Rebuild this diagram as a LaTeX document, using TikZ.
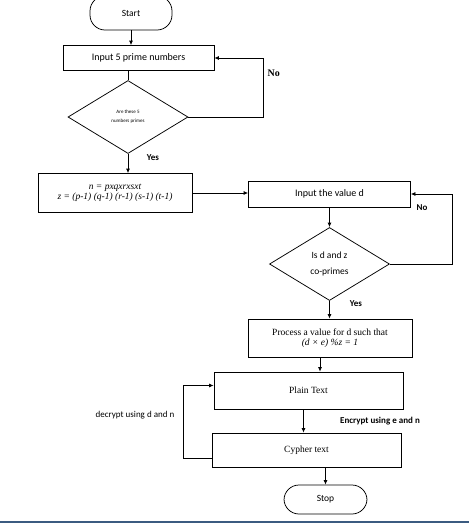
\documentclass[tikz,border=0pt]{standalone}
\usepackage{fontspec}
\setmainfont{Liberation Serif}
\setsansfont{Carlito}
\usetikzlibrary{positioning,calc,shapes.geometric,arrows.meta}
\definecolor{barblue}{HTML}{3B5B80}

\begin{document}
\begin{tikzpicture}[x=1pt,y=-1pt,line width=0.75pt]

% ---- Styles (plain black flowchart) ----
\tikzset{
  procbox/.style={rectangle, draw, align=center, inner sep=2pt,
                  font=\sffamily\fontsize{10}{12}\selectfont},
  mathbox/.style={procbox, font=\rmfamily\fontsize{9.5}{10.5}\selectfont},
  terminal/.style={rectangle, rounded corners=15pt, draw,
                   font=\sffamily\fontsize{9.5}{11}\selectfont},
  decision/.style={diamond, draw, inner sep=0pt, align=center,
                   minimum width=120pt, minimum height=73pt},
  tag/.style={font=\sffamily\bfseries\fontsize{9}{10}\selectfont},
  arr/.style={-{Latex[length=4.5pt,width=4pt]}},
}

\useasboundingbox (0,0) rectangle (469,523);

% --- Prime numbers part ---
\node[terminal, minimum width=82pt, minimum height=34pt] (start) at (131,13) {Start};
\node[procbox, minimum width=151pt, minimum height=25pt] (inp5) at (138.5,58) {Input 5 prime numbers};
\node[decision, font=\sffamily\fontsize{5}{9}\selectfont] (chk1) at (128,117)
  {Are these 5\\numbers primes};
\node[mathbox, minimum width=154pt, minimum height=39pt,
      font=\rmfamily\itshape\fontsize{9.5}{10}\selectfont] (calc) at (115,193)
  {n = pxqxrxsxt\\z = (p-1) (q-1) (r-1) (s-1) (t-1)};

% --- Choosing d ---
\node[procbox, minimum width=162pt, minimum height=26pt] (inpd) at (329.5,194) {Input the value d};
\node[decision, font=\sffamily\fontsize{9.5}{16}\selectfont] (chk2) at (329.5,264)
  {Is d and z\\co-primes};
\node[mathbox, minimum width=164pt, minimum height=38pt] (proc) at (330,338)
  {Process a value for d such that\\\textit{(d × e) \%z = 1}};

% --- Encryption / decryption ---
\node[mathbox, minimum width=189pt, minimum height=37pt] (plain) at (308.5,390.5) {Plain Text};
\node[mathbox, minimum width=189pt, minimum height=34pt] (cypher) at (306.5,450) {Cypher text};
\node[terminal, minimum width=83pt, minimum height=29pt] (stop) at (325.5,499.5) {Stop};

% --- Labels ---
\node[font=\rmfamily\bfseries\fontsize{10}{12}\selectfont, anchor=west] (no1) at (264,73) {No};
\node[tag] (no2) at (422,208) {No};
\node[tag] (yes1) at (153,158) {Yes};
\node[tag] (yes2) at (356,304) {Yes};
\node[tag] (enc) at (380,421) {Encrypt using e and n};
\node[font=\sffamily\fontsize{9}{10}\selectfont] (dec) at (135,415) {decrypt using d and n};

% --- Connectors ---
\draw[arr] (start.south) -- (start.south |- inp5.north);
\draw (chk1.north |- inp5.south) -- (chk1.north);
\draw[arr] (chk1.south) -- (chk1.south |- calc.north);
\draw[arr] (chk1.east) -- ++(75,0) |- (inp5.east);
\draw[arr] (calc.east) -- (calc.east -| inpd.west);
\draw[arr] (inpd.south) -- (chk2.north);
\draw[arr] (chk2.east) -- ++(62,0) |- (inpd.east);
\draw[arr] (chk2.south) -- (chk2.south |- proc.north);
\draw[arr] ([xshift=-10pt]proc.south) -- ([xshift=-10pt]proc.south |- plain.north);
\draw[arr] ([xshift=-5pt]plain.south) -- ([xshift=-5pt]plain.south |- cypher.north);
\draw[arr] (cypher.south -| stop.north) -- (stop.north);
\draw[arr] ([yshift=-8pt]cypher.west) -- ++(-28,0) |- ([yshift=5pt]plain.west);

% --- Bottom edge ---
\fill[barblue] (0,520.5) rectangle (469,523);

\end{tikzpicture}
\end{document}
